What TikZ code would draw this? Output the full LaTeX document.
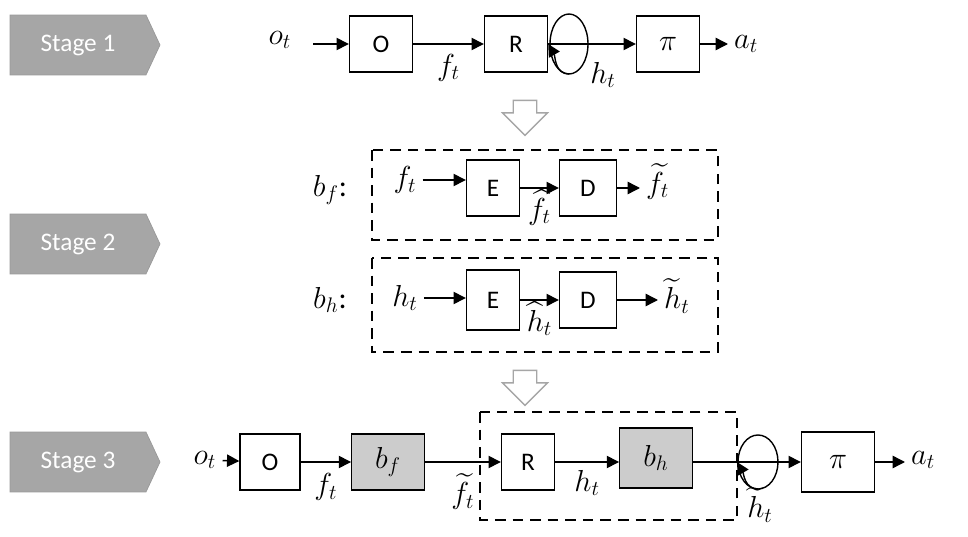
\documentclass[tikz,border=0pt]{standalone}
\usepackage{amsmath}
\usepackage{amssymb}
\usepackage{fontspec}
\setmainfont{Carlito}
\usetikzlibrary{shapes.symbols,shapes.arrows,arrows.meta}
\tikzset{
  blk/.style={draw, thick, minimum width=#1, minimum height=1.12cm, inner sep=0pt, font=\Large},
  blk/.default=1.26cm,
  gblk/.style={blk=1.45cm, fill=gray!40, font=\LARGE},
  stage/.style={signal, signal to=east, fill=gray!70, draw=gray!80, text=white, minimum width=3cm, minimum height=1.2cm, font=\Large, signal pointer angle=130},
  con/.style={-{Triangle[length=7pt,width=7pt]}, thick},
  dbox/.style={draw, line width=1.4pt, dash pattern=on 6pt off 4pt},
  big/.style={single arrow, shape border rotate=270, draw=gray!70, fill=white, thick, minimum height=0.7cm, minimum width=0.9cm, single arrow head extend=0.12cm},
  lbl/.style={font=\LARGE}
}
\begin{document}
\begin{tikzpicture}[x=0.02cm,y=-0.02cm]
\useasboundingbox (0,0) rectangle (968,537);

% stage labels
\node[stage] (s1) at (78,45) {Stage 1};
\node[stage] (s2) at (78,244) {Stage 2};
\node[stage] (s3) at (78,462) {Stage 3};

% stage 1
\node[lbl] (o1) at (280,40) {$o_t$};
\node[blk] (O1) at (381,44) {O};
\node[blk] (R1) at (516,44) {R};
\node[blk, font=\LARGE] (P1) at (668,44) {$\pi$};
\node[lbl, anchor=west] (a1) at (728,44) {$a_t$};
\draw[con] (313,44) -- (O1);
\draw[con] (O1) -- node[lbl, below=2pt] {$f_t$} (R1);
\draw[con] (R1) -- (P1);
\draw[con] (P1) -- (a1);
\draw[thick] (569,44) ellipse (19 and 30);
\draw[con] (569,74) to[out=180,in=-60] (R1.east);
\node[lbl] (h1) at (603,75) {$h_t$};

\node[big] (d1) at (525,112) {};

% stage 2
\draw[dbox] (372,150) rectangle (718,240);
\node[lbl] (bf) at (330,190) {$b_f$:};
\node[lbl] (f2) at (405,180) {$f_t$};
\node[blk=1.06cm] (E1) at (493,188) {E};
\node[blk=1.14cm] (D1) at (588,188) {D};
\node[lbl, anchor=west] (tf) at (640,181) {$\widetilde{f}_t$};
\draw[con] (f2) -- (f2 -| E1.west);
\draw[con] (E1) -- node[lbl, below=-3pt] {$\widehat{f}_t$} (D1);
\draw[con] (D1) -- (tf.west |- D1);

\draw[dbox] (372,258) rectangle (718,352);
\node[lbl] (bh) at (330,300) {$b_h$:};
\node[lbl] (h2) at (405,298) {$h_t$};
\node[blk=1.06cm, minimum height=1.2cm] (E2) at (493,300) {E};
\node[blk=1.14cm] (D2) at (588,300) {D};
\node[lbl, anchor=west] (th) at (658,296) {$\widetilde{h}_t$};
\draw[con] (h2) -- (h2 -| E2.west);
\draw[con] (E2) -- node[lbl, below=-3pt] {$\widehat{h}_t$} (D2);
\draw[con] (D2) -- (th.west |- D2);

\node[big] (d2) at (525,382) {};

% stage 3
\node[lbl] (o3) at (205,460) {$o_t$};
\node[blk=1.2cm] (O3) at (270,462) {O};
\node[gblk] (BF) at (388,462) {$b_f$};
\node[blk=1.06cm] (R3) at (528,462) {R};
\node[gblk, minimum height=1.2cm] (BH) at (656,458) {$b_h$};
\node[blk=1.46cm, minimum height=1.2cm, font=\LARGE] (P3) at (838,462) {$\pi$};
\node[lbl, anchor=west] (a3) at (905,460) {$a_t$};
\draw[dbox] (480,412) rectangle (737,520);
\draw[con] (o3) -- (O3);
\draw[con] (O3) -- node[lbl, below=3pt] {$f_t$} (BF);
\draw[con] (BF) -- node[lbl, below=3pt] {$\widetilde{f}_t$} (R3);
\draw[con] (R3) -- node[lbl, below=1pt] {$h_t$} (BH.west |- R3);
\draw[con] (BH.east |- P3) -- (P3);
\draw[con] (P3) -- (a3.west |- P3);
\draw[thick] (758,462) ellipse (20 and 27);
\draw[con] (758,489) to[out=180,in=-60] (737,462);
\node[lbl] (h3) at (760,505) {$\widetilde{h}_t$};
\end{tikzpicture}
\end{document}
